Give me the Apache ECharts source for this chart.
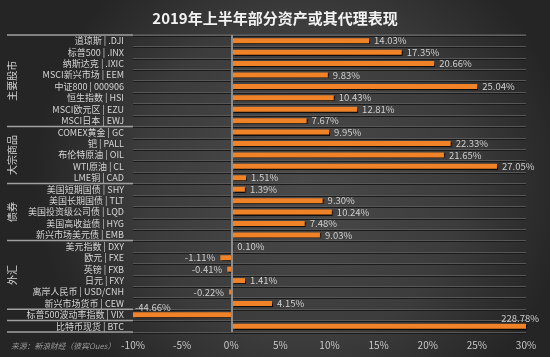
<!DOCTYPE html>
<html><head><meta charset="utf-8">
<script src="https://cdn.jsdelivr.net/npm/echarts@6/dist/echarts.min.js"></script>
<style>html,body{margin:0;padding:0;background:#333}#c{width:550px;height:357px}</style>
</head><body><div id="c"></div>
<script>
const categories = ["道琼斯 | .DJI","标普500 | .INX","纳斯达克 | .IXIC","MSCI新兴市场 | EEM","中证800 | 000906","恒生指数 | HSI","MSCI欧元区 | EZU","MSCI日本 | EWJ","COMEX黄金 | GC","钯 | PALL","布伦特原油 | OIL","WTI原油 | CL","LME铜 | CAD","美国短期国债 | SHY","美国长期国债 | TLT","美国投资级公司债 | LQD","美国高收益债 | HYG","新兴市场美元债 | EMB","美元指数 | DXY","欧元 | FXE","英镑 | FXB","日元 | FXY","离岸人民币 | USD/CNH","新兴市场货币 | CEW","标普500波动率指数 | VIX","比特币现货 | BTC"];
const values = [14.03,17.35,20.66,9.83,25.04,10.43,12.81,7.67,9.95,22.33,21.65,27.05,1.51,1.39,9.30,10.24,7.48,9.03,0.10,-1.11,-0.41,1.41,-0.22,4.15,-44.66,228.78];
const groupNames = ["主要股市","大宗商品","债券","外汇","",""];
const groupSizes = [8,5,5,6,1,1];
const xTicks = [-10,-5,0,5,10,15,20,25,30];
const title = "2019年上半年部分资产或其代理表现";
const source = "来源：新浪财经（彼宾Oues）";

const xMin = xTicks[0], xMax = xTicks[xTicks.length-1];
const font = "'Noto Sans CJK SC','Noto Sans',sans-serif";
const data = values.map(v => {
  const d = {value: v, label: {}};
  if (v < xMin) {
    d.label = {position: 'insideTopLeft', offset: [-3, -15]};
  } else if (v > xMax) {
    d.label = {position: 'insideTopRight', offset: [18, -15]};
  } else if (v < 0) {
    d.label = {position: 'left'};
  } else {
    d.label = {position: 'right'};
  }
  return d;
});

const chart = echarts.init(document.getElementById('c'), null, {renderer: 'canvas'});
chart.setOption({
  backgroundColor: {type: 'radial', x: 0.55, y: 0.5, r: 0.75,
    colorStops: [{offset: 0, color: '#4a4a4a'}, {offset: 0.6, color: '#3c3c3c'}, {offset: 1, color: '#252525'}]},
  title: {text: title, left: 'center', top: 6,
    textStyle: {color: '#f2f2f2', fontSize: 15, fontWeight: 'bold', fontFamily: font}},
  grid: {left: 133, right: 24, top: 35, bottom: 25, containLabel: false},
  xAxis: {type: 'value', min: xMin, max: xMax, interval: 5,
    axisLine: {show: false}, axisTick: {show: false}, splitLine: {show: false},
    axisLabel: {color: '#c8c8c8', fontSize: 10, fontFamily: font, margin: 8, formatter: '{value}%'}},
  yAxis: {type: 'category', data: categories, inverse: true,
    axisLine: {show: false}, axisTick: {show: false},
    splitLine: {show: true, interval: 0, lineStyle: {color: '#575757', width: 1, shadowColor: '#1a1a1a', shadowOffsetY: 1}},
    axisLabel: {interval: 0, color: '#d6d6d6', fontSize: 9, fontFamily: font, margin: 9}},
  series: [{
    type: 'bar', data: data, barWidth: 5, clip: true,
    itemStyle: {color: '#f08228', shadowColor: 'rgba(0,0,0,0.8)', shadowOffsetX: 1, shadowOffsetY: 1, shadowBlur: 1},
    label: {show: true, color: '#cfcfcf', fontSize: 9.5, fontFamily: font, distance: 5,
      formatter: p => p.value.toFixed(2) + '%'},
    markLine: {silent: true, symbol: 'none', label: {show: false},
      lineStyle: {color: '#8c8c8c', width: 2, type: 'solid'},
      data: [{xAxis: 0}]}
  }]
});

function drawGroups() {
  const c0 = chart.convertToPixel({yAxisIndex: 0}, categories[0]);
  const c1 = chart.convertToPixel({yAxisIndex: 0}, categories[1]);
  const band = c1 - c0;
  const x0 = 7, x1 = chart.convertToPixel({xAxisIndex: 0}, xMin);
  const elements = [];
  let idx = 0;
  const line = y => ({type: 'line', shape: {x1: x0, y1: y, x2: x1, y2: y}, style: {stroke: '#a0a0a0', lineWidth: 1.5}, z: 10});
  elements.push(line(c0 - band / 2));
  groupSizes.forEach((n, g) => {
    const yTop = c0 + (idx - 0.5) * band;
    const yBot = c0 + (idx + n - 0.5) * band;
    if (groupNames[g]) {
      elements.push({type: 'text', x: 12, y: (yTop + yBot) / 2, rotation: Math.PI / 2,
        style: {text: groupNames[g], fill: '#d6d6d6', fontSize: 10, fontFamily: font, align: 'center', verticalAlign: 'middle'}, z: 10});
    }
    elements.push(line(yBot));
    idx += n;
  });
  elements.push({type: 'line', shape: {x1: x1, y1: c0 - band / 2, x2: chart.convertToPixel({xAxisIndex: 0}, xMax), y2: c0 - band / 2}, style: {stroke: '#6a6a6a', lineWidth: 1}, z: 1});
  elements.push({type: 'text', x: 11, y: 346, style: {text: source, fill: '#9a9a9a', fontSize: 7.8, fontStyle: 'italic', fontFamily: font, verticalAlign: 'middle'}});
  chart.setOption({graphic: {elements: elements}});
}
drawGroups();
</script>
</body></html>
